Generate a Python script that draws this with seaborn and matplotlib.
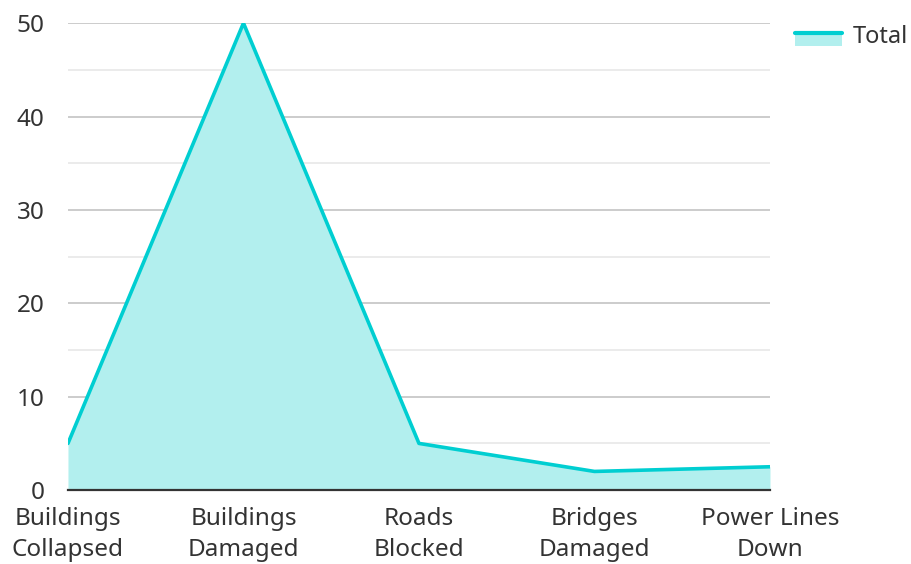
import numpy as np
import pandas as pd
import matplotlib
matplotlib.use("Agg")
import matplotlib.pyplot as plt
import seaborn as sns
from matplotlib.legend_handler import HandlerBase
from matplotlib.patches import Rectangle
from matplotlib.lines import Line2D

# --- chart data ---
categories = ["Buildings\nCollapsed", "Buildings\nDamaged", "Roads\nBlocked",
              "Bridges\nDamaged", "Power Lines\nDown"]
totals = [5, 50, 5, 2, 2.5]
series_name = "Total"

LINE_COLOR = "#00CED1"
FILL_COLOR = "#B2EFEE"

sns.set_theme(style="white")
plt.rcParams['font.family'] = ['Noto Sans', 'DejaVu Sans']


class AreaHandler(HandlerBase):
    # draws the filled box with the line along its top edge
    def create_artists(self, legend, orig_handle, xdescent, ydescent,
                       width, height, fontsize, trans):
        rect = Rectangle((-xdescent, -ydescent - height * 0.2), width, height * 0.8,
                         facecolor=FILL_COLOR, edgecolor="none", transform=trans)
        line = Line2D([-xdescent, -xdescent + width],
                      [-ydescent + height * 0.6] * 2,
                      color=LINE_COLOR, lw=3, transform=trans)
        return [rect, line]


df = pd.DataFrame({"category": categories, "value": totals})
df["pos"] = np.arange(len(df))

fig = plt.figure(figsize=(9.11, 5.64), dpi=100)
ax = fig.add_axes([0.0746, 0.131, 0.7706, 0.828])

ax.fill_between(df["pos"], df["value"], 0, color=FILL_COLOR, lw=0, zorder=2)
sns.lineplot(data=df, x="pos", y="value", ax=ax, color=LINE_COLOR,
             linewidth=2.6, zorder=3, legend=False)

ax.set_xlim(0, len(df) - 1)
ax.set_ylim(0, 50)
ax.set_xticks(df["pos"])
ax.set_xticklabels(df["category"])
ax.set_yticks(np.arange(0, 51, 10))
ax.set_yticks(np.arange(5, 50, 10), minor=True)
ax.tick_params(axis="both", length=0, labelsize=17.5, colors="#333333")
ax.tick_params(axis="x", pad=12)
ax.tick_params(axis="y", pad=17)
ax.set_xlabel("")
ax.set_ylabel("")

ax.grid(axis="y", which="major", color="#BFBFBF", lw=1.1, zorder=1)
ax.grid(axis="y", which="minor", color="#E6E6E6", lw=1.1, zorder=1)
ax.grid(axis="x", visible=False)
for side in ["left", "right", "top"]:
    ax.spines[side].set_visible(False)
ax.spines["bottom"].set_color("#333333")
ax.spines["bottom"].set_linewidth(1.6)
ax.spines["bottom"].set_zorder(4)

for lbl in ax.get_xticklabels():
    lbl.set_linespacing(1.4)

fig.legend([object()], [series_name], handler_map={object: AreaHandler()},
           loc="upper left", bbox_to_anchor=(795 / 911, 1 - 25 / 564),
           borderpad=0, borderaxespad=0, frameon=False,
           fontsize=17, handlelength=2.0, handletextpad=0.45, labelcolor="#333333")

fig.savefig("out.png", dpi=100)
